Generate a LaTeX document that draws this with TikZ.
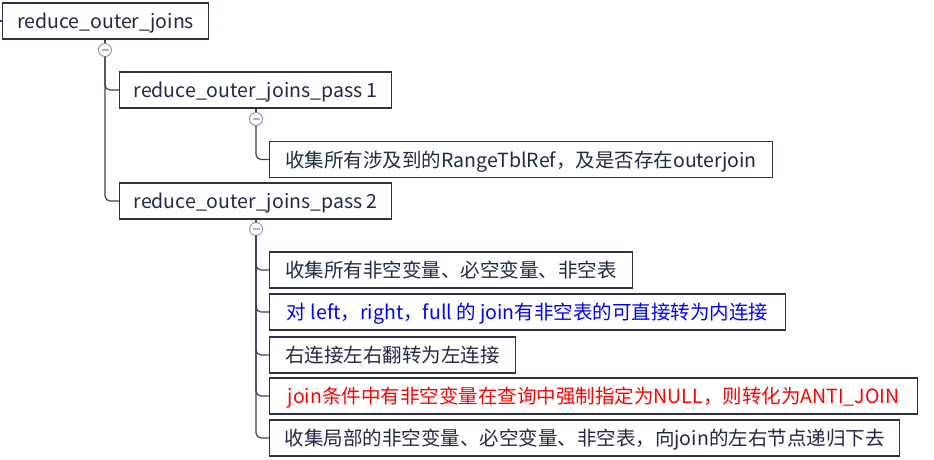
\documentclass[tikz,border=0pt]{standalone}
\usepackage{fontspec}
\setmainfont{Noto Sans CJK SC}
\definecolor{boxc}{HTML}{2B3242}
\definecolor{txt}{HTML}{1F2A44}
\definecolor{linec}{HTML}{3B4252}
\definecolor{togc}{HTML}{8A909C}
\definecolor{togm}{HTML}{A9B3CB}
\definecolor{bluet}{HTML}{0000FF}
\definecolor{redt}{HTML}{FF0000}
\begin{document}
\begin{tikzpicture}[x=1pt,y=-1pt,
  box/.style={draw=boxc, line width=1.2pt, minimum height=36pt, inner sep=0pt, anchor=west,
    text height=16pt, text depth=0.6pt,
    font=\fontsize{19.5}{23}\selectfont, text=txt, fill=white},
  link/.style={draw=linec, line width=1.2pt, rounded corners=5pt},
  tog/.style={circle, draw=togc, fill=white, line width=0.9pt, minimum size=13pt, inner sep=0pt},
  minus/.style={draw=togm, line width=1.6pt}]
\useasboundingbox (0,0) rectangle (934,459);

\node[box, minimum width=206pt] (root) at (2,21) {reduce\_outer\_joins};
\node[box, minimum width=272pt] (p1) at (119,90) {reduce\_outer\_joins\_pass 1};
\node[box, minimum width=503pt] (r1) at (269,159.5) {收集所有涉及到的RangeTblRef，及是否存在outerjoin};
\node[box, minimum width=272pt] (p2) at (119,201) {reduce\_outer\_joins\_pass 2};
\node[box, minimum width=363pt] (c1) at (269,270) {收集所有非空变量、必空变量、非空表};
\node[box, minimum width=516pt, text=bluet] (c2) at (269,312) {对 left，right，full 的 join有非空表的可直接转为内连接};
\node[box, minimum width=246pt] (c3) at (269,355) {右连接左右翻转为左连接};
\node[box, minimum width=648pt, text=redt] (c4) at (269,396) {join条件中有非空变量在查询中强制指定为NULL，则转化为ANTI\_JOIN};
\node[box, minimum width=630pt] (c5) at (269,438) {收集局部的非空变量、必空变量、非空表，向join的左右节点递归下去};

\node[tog] (t0) at (105,50) {};
\node[tog] (t1) at (256,119) {};
\node[tog] (t2) at (256,229) {};

\coordinate (stub) at (0,21);
\draw[link] (stub) -- (root.west);

\draw[link] (root.south -| t0) -- (t0.north);
\draw[link] (p1.south -| t1) -- (t1.north);
\draw[link] (p2.south -| t2) -- (t2.north);

\draw[link] (t0.south) |- (p1.west);
\draw[link] (t0.south) |- (p2.west);
\draw[link] (t1.south) |- (r1.west);
\foreach \c in {c1,c2,c3,c4,c5}
  \draw[link] (t2.south) |- (\c.west);

\foreach \t in {t0,t1,t2}
  \draw[minus] ([xshift=-3.5pt]\t.center) -- ([xshift=3.5pt]\t.center);
\end{tikzpicture}
\end{document}
